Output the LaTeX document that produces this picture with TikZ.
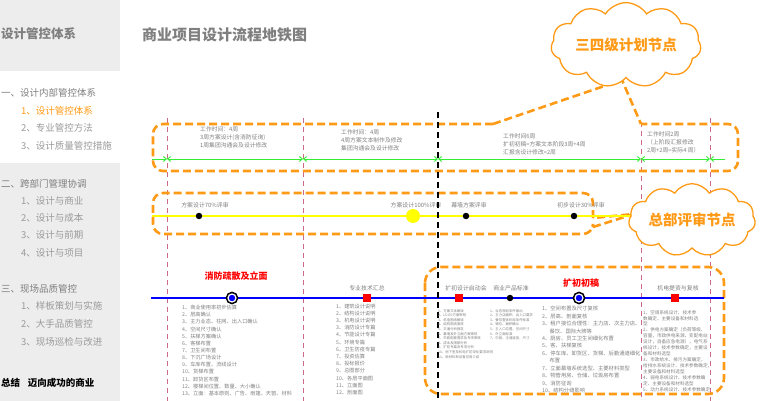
\documentclass[tikz,border=0pt]{standalone}
\usepackage{fontspec}
\setmainfont{Noto Sans CJK SC}
\usepackage{tikz}
\usetikzlibrary{shapes, shapes.symbols, arrows.meta, positioning}
\definecolor{sideGray}{HTML}{EDEDED}
\definecolor{headGray}{HTML}{7F7F7F}
\definecolor{itemGray}{HTML}{9A9A9A}
\definecolor{txtGray}{HTML}{808080}
\definecolor{planOrange}{HTML}{FF9A16}
\definecolor{stopRed}{HTML}{FF0000}
\definecolor{pinkLine}{HTML}{CC6A86}
\definecolor{greenLine}{HTML}{33EE33}
\definecolor{yellowLine}{HTML}{FFFF00}
\definecolor{blueLine}{HTML}{0000FF}
\tikzset{
  sideTitle/.style={font=\fontsize{12.5}{13}\selectfont\bfseries\color{headGray}, inner sep=0pt},
  pageTitle/.style={font=\fontsize{15}{16}\selectfont\bfseries\color{headGray}, inner sep=0pt},
  secHead/.style={font=\fontsize{9.5}{10}\selectfont\color{headGray}, inner sep=0pt},
  secItem/.style={font=\fontsize{9.5}{10}\selectfont\color{itemGray}, inner sep=0pt},
  orangeBox/.style={draw=planOrange, line width=2.6pt, dash pattern=on 8pt off 4pt},
  stageLine/.style={draw=pinkLine, line width=0.8pt, dash pattern=on 5pt off 4pt},
  splitLine/.style={draw=black, line width=1.8pt, dash pattern=on 6pt off 4pt},
  spanLine/.style={draw=greenLine, line width=0.9pt},
  spanArrow/.style={spanLine, {Straight Barb[length=3pt,width=5pt]}-{Straight Barb[length=3pt,width=5pt]}},
  yellowL/.style={draw=yellowLine, line width=1.5pt},
  blueL/.style={draw=blueLine, line width=2.8pt},
  cloudN/.style={cloud, cloud puffs=11, cloud puff arc=115, aspect=2.2, draw=planOrange,
                 line width=1.3pt, fill=white, inner sep=0pt,
                 font=\fontsize{14.5}{15}\selectfont\bfseries\color{planOrange}},
  dotV/.style={circle, fill=black, inner sep=0pt, minimum size=6.5pt},
  sunV/.style={circle, fill=yellowLine, inner sep=0pt, minimum size=14pt},
  ringV/.style={circle, fill=blueLine, draw=white, line width=1.2pt, inner sep=0pt,
                minimum size=8pt, preaction={draw=black, line width=4.4pt}},
  squareV/.style={rectangle, fill=stopRed, inner sep=0pt, minimum size=7.5pt},
  stopLbl/.style={font=\fontsize{5.9}{6}\selectfont\color{txtGray}, inner sep=0pt},
  keyLbl/.style={font=\fontsize{9}{9}\selectfont\bfseries\color{stopRed}, inner sep=0pt},
  noteT/.style={font=\fontsize{5.8}{8.2}\selectfont\color{txtGray}, align=left, anchor=north west, inner sep=0pt},
  listT/.style={font=\fontsize{5.2}{7.15}\selectfont\color{txtGray}, align=left, anchor=north west, inner sep=0pt},
  tinyT/.style={font=\fontsize{3.4}{4.6}\selectfont\color{txtGray}, align=left, anchor=north west, inner sep=0pt},
}
\begin{document}
\begin{tikzpicture}[x=1pt, y=-1pt]
    \useasboundingbox (0,0) rectangle (760,401);
    \fill[sideGray] (0,0) rectangle (120,71);
    \fill[sideGray] (0,163) rectangle (120,401);
    \node[sideTitle, anchor=west] (side0) at (1,34) {设计管控体系};
    \node[pageTitle, anchor=west] (title) at (142,35) {商业项目设计流程地铁图};
    \foreach \n/\y/\t in {h1/93/一、设计内部管控体系, h2/184/二、跨部门管理协调, h3/289/三、现场品质管控}{
      \node[secHead, anchor=west] (\n) at (1,\y) {\t};
    }
    \node[secItem, anchor=west, text=planOrange] (h1a) at (21,111) {1、设计管控体系};
    \foreach \n/\y/\t in {h1b/128/2、专业管控方法, h1c/146/3、设计质量管控措施,
                          h2a/201/1、设计与商业, h2b/218/2、设计与成本, h2c/235/3、设计与前期, h2d/253/4、设计与项目,
                          h3a/306/1、样板策划与实施, h3b/324/2、大手品质管控, h3c/342/3、现场巡检与改进}{
      \node[secItem, anchor=west] (\n) at (21,\y) {\t};
    }
    \node[secHead, anchor=west, font=\fontsize{9.5}{10}\selectfont\bfseries] (sum) at (1,383) {总结\hspace{0.8em}迈向成功的商业};

    \foreach \n/\x/\t in {v1/167/118, v2/303/118, v4/641/122, v5/710/118}{
      \coordinate (\n-t) at (\x,\t);
      \coordinate (\n-b) at (\x,401);
      \draw[stageLine] (\n-t) -- (\n-b);
    }

    \draw[orangeBox, rounded corners=10pt] (493,124) -- (153,124) -- (153,171) -- (738,171) -- (738,124) -- (641,124);
    \draw[orangeBox] (493,124) -- (622,80) -- (641,124);
    \draw[orangeBox, rounded corners=10pt] (593,218) -- (593,193) -- (153,193) -- (153,234) -- (593,234) -- (593,227);
    \draw[orangeBox] (593,227) -- (634,214) -- (593,218);
    \draw[orangeBox, rounded corners=16pt] (425,267) rectangle (724,394);

    \foreach \n/\x in {g0/152, g1/167, g2/303, g3/438, g4/641, g5/710, g6/725}{
      \coordinate (\n) at (\x,159);
    }
    \draw[spanLine, -{Straight Barb[length=3pt,width=5pt]}] (g0) -- (g1);
    \foreach \a/\b in {g1/g2, g2/g3, g3/g4, g4/g5}{
      \draw[spanArrow] (\a) -- (\b);
    }
    \draw[spanLine, -{Straight Barb[length=3pt,width=5pt]}] (g6) -- (g5);

    \node[noteT] (n1) at (200,126) {工作时间：4周\\3周方案设计(含消防征询)\\1周集团沟通会及设计修改};
    \node[noteT] (n2) at (341,129) {工作时间：4周\\4周方案文本制作及修改\\集团沟通会及设计修改};
    \node[noteT] (n3) at (503,133) {工作时间6周\\扩初初稿=方案文本阶段3周+4周\\汇报含设计修改=2周};
    \node[noteT] (n4) at (647,131) {工作时间2周\\（上阶段汇报修改\\2周+2周=实际4 周）};

    \coordinate (yS) at (152,216);
    \coordinate (yE) at (640,216);
    \draw[yellowL] (yS) -- (yE);
    \foreach \n/\x/\s/\lx/\t in {y1/199/dotV/205/方案设计70\%评审, y2/413/sunV/416/方案设计100\%评审,
                                y3/466/dotV/469/幕墙方案评审, y4/574/dotV/581/初步设计30\%评审}{
      \node[\s] (\n) at (\x,216) {};
      \node[stopLbl] (\n-l) at (\lx,205) {\t};
    }

    \coordinate (bS) at (151,298);
    \coordinate (bE) at (724,298);
    \draw[blueL] (bS) -- (bE);
    \foreach \n/\x/\s in {b1/232/ringV, b2/367/squareV, b3/459/squareV, b4/510/dotV, b5/579/ringV, b6/675/squareV}{
      \node[\s] (\n) at (\x,298) {};
    }
    \node[keyLbl] (b1-l) at (236,276) {消防疏散及立面};
    \node[keyLbl] (b5-l) at (581,283) {扩初初稿};
    \foreach \n/\x/\t in {b2/367/专业技术汇总, b3/466/扩初设计启动会, b4/511/商业产品标准, b6/678/机电提资与复核}{
      \node[stopLbl] (\n-l) at (\x,288) {\t};
    }

    \node[cloudN, minimum width=150pt, minimum height=68pt] (cloudA) at (626,45) {三四级计划节点};
    \node[cloudN, minimum width=122pt, minimum height=60pt] (cloudB) at (692,220) {总部评审节点};

    \coordinate (sT) at (438,112);
    \coordinate (sB) at (438,401);
    \draw[splitLine] (sT) -- (sB);

    \node[listT] (list1) at (182,305) {1、商业使用率初步估算\\2、层高确认\\3、主力业态、柱网、出入口确认\\4、空间尺寸确认\\5、扶梯方案确认\\6、客梯布置\\7、卫生间布置\\8、下沉广场设计\\9、车库布置、流线设计\\10、货梯布置\\11、卸货区布置\\12、楼梯间位置、数量、大小确认\\13、立面：基本原则、广告、雨篷、天窗、材料};
    \node[listT, font=\fontsize{5.2}{7.2}\selectfont\color{txtGray}] (list2) at (336,303.5) {1、建筑设计说明\\2、结构设计说明\\3、机电设计说明\\3、消防设计专篇\\4、节能设计专篇\\5、环境专篇\\6、卫生防疫专篇\\7、投资估算\\8、投标报价\\9、总图部分\\10、各层平面图\\11、立面图\\12、剖面图};
    \node[tinyT] (list3) at (438,309) {1、方案文本解读\\2、LOGO方案审核\\3、机电图纸解读\\4、结构图纸复核\\5、交通分析报告\\6、幕墙及外立面方案审核\\7、市政配套需求及专项审核\\8、成本及限额分析\\9、扩初专篇及专项分析\\10、地下室及机电扩初深化要求说明\\11、新材料新设备应用介绍};
    \node[tinyT] (list4) at (490,309) {1、业态规划条件输出\\2、主力店面积、出入口要求\\3、餐饮整体机电条件标准\\4、铺位、面积确认\\5、主入口位置、空间尺寸\\6、外立面标准\\7、中庭、主通道宽、尺寸};
    \node[listT, font=\fontsize{5.3}{7.45}\selectfont\color{txtGray}] (list5) at (542,306) {1、空间布置及尺寸复核\\2、层高、剖面复核\\3、租户接位合理性：主力店、次主力店、\\\hspace*{1.4em}餐饮、国际大牌等\\4、厨房、员工卫生间细化布置\\5、客、扶梯复核\\6、停车库、卸货区、货梯、后勤通道细化\\\hspace*{1.4em}布置\\7、立面幕墙系统选型、主要材料类型\\8、物管用房、仓储、垃圾房布置\\9、消防征询\\10、结构分缝影响};
    \node[listT, font=\fontsize{4.6}{5.95}\selectfont\color{txtGray}] (list6) at (643,310) {1、空调系统设计、技术参\\数确定、主要设备和材料选\\型\\2、供电方案确定（负荷等级、\\容量，市政供电来源，变配电站\\设计，自备应急电源），电气系\\统设计，技术参数确定，主要设\\备和材料选型\\3、市政给水、排污方案确定，\\给排水系统设计、技术参数确定，\\主要设备和材料选型\\4、弱电系统设计、技术参数确\\定、主要设备和材料选型\\5、动力系统设计、技术参数确定};
\end{tikzpicture}
\end{document}
